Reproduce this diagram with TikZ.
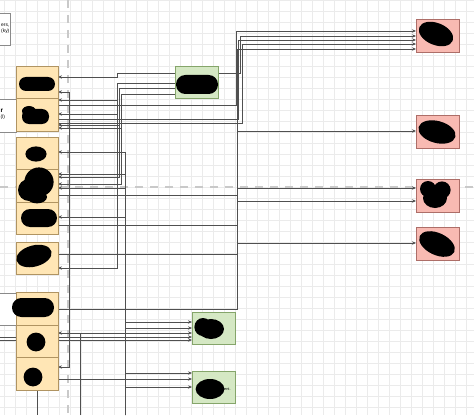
\documentclass[tikz,border=0pt]{standalone}
\usepackage{fontspec}
\setmainfont{Liberation Sans}
\usepackage{xcolor}
\definecolor{wirec}{HTML}{505050}
\definecolor{gridc}{HTML}{EBEBEB}
\definecolor{dashc}{HTML}{C9C9C9}
\definecolor{lightyel}{HTML}{FFE6B5}
\definecolor{yelline}{HTML}{B09462}
\definecolor{lightgrn}{HTML}{D5E8C4}
\definecolor{grnline}{HTML}{85A56A}
\definecolor{lightpink}{HTML}{F8BAB2}
\definecolor{pinkline}{HTML}{AD6E68}
\definecolor{wboxline}{HTML}{8A8A8A}
\usetikzlibrary{arrows.meta, positioning, backgrounds}
\tikzset{
  ybox/.style ={rectangle, draw=yelline, line width=0.45mm, fill=lightyel, outer sep=0pt, inner sep=0pt,
                minimum width=21mm, minimum height=16.25mm},
  gbox/.style ={rectangle, draw=grnline, line width=0.45mm, fill=lightgrn, outer sep=0pt, inner sep=0pt,
                minimum width=21.5mm, minimum height=16mm},
  rbox/.style ={rectangle, draw=pinkline, line width=0.45mm, fill=lightpink, outer sep=0pt, inner sep=0pt,
                minimum width=21.5mm, minimum height=16.5mm},
  wbox/.style ={rectangle, draw=wboxline, line width=0.4mm, fill=white, outer sep=0pt, inner sep=0pt},
  wire/.style ={line width=0.45mm, draw=wirec},
  warr/.style ={wire, -{Stealth[length=2mm, width=1.7mm]}},
  warrb/.style={wire, {Stealth[length=2mm, width=1.7mm]}-{Stealth[length=2mm, width=1.7mm]}},
  gridline/.style={draw=gridc, line width=0.2mm},
  dashline/.style={draw=dashc, line width=0.7mm, dash pattern=on 4mm off 3.5mm},
  blob/.style ={fill=black},
  frag/.style ={font=\fontsize{7}{8.5}\selectfont, text=black, inner sep=0pt},
}

\begin{document}
\begin{tikzpicture}[x=0.5mm, y=-0.5mm]
  \useasboundingbox (0,0) rectangle (474,415);
  % side boxes, cut off at the left edge
  \node[wbox, minimum width=6mm, minimum height=16mm, anchor=north east] (wtop) at (10,13) {};
  \node[wbox, minimum width=9mm, minimum height=16.5mm, anchor=north east] (wmid) at (16,99) {};
  \node[wbox, minimum width=9mm, minimum height=16mm, anchor=north east] (wlow) at (16,293) {};
  \node[frag, anchor=east, align=right] (wtoptxt) at (9.5,29) {ers,\\(ky)};
  \node[frag, anchor=west, align=left] (wmidtxt) at (0.5,114) {{\fontsize{9}{9}\selectfont\bfseries r}\\(l)};
  % yellow stacks
  \node[ybox] (ya) at (37,82.25) {};
  \node[ybox, below=0pt of ya] (yb) {};
  \node[ybox] (yc) at (37,153.5) {};
  \node[ybox, below=0pt of yc] (yd) {};
  \node[ybox, below=0pt of yd] (ye) {};
  \node[ybox] (yf) at (37,258.5) {};
  \node[ybox] (yg) at (37,309) {};
  \node[ybox, below=0pt of yg] (yh) {};
  \node[ybox, below=0pt of yh] (yi) {};
  % green and red boxes
  \node[gbox] (g1) at (197,82) {};
  \node[gbox] (g2) at (213.5,328) {};
  \node[gbox] (g3) at (213.5,387) {};
  \foreach \n/\cy in {1/35.5, 2/131.5, 3/195.5, 4/243.5} \node[rbox] (r\n) at (437.5,\cy) {};
  % free ends at the border
  \coordinate (tb) at (125,415);
  \coordinate (tc) at (80,415);
  \coordinate (ti) at (37,415);
  \coordinate (tl1) at (0,337);
  \coordinate (tl2) at (0,340);

  \begin{scope}[on background layer]
    \fill[white] (0,0) rectangle (474,415);
    \foreach \gx in {4,15,...,470} \draw[gridline] (\gx,0) -- (\gx,415);
    \foreach \gy in {0,11,...,415} \draw[gridline] (0,\gy) -- (474,\gy);
    \draw[dashline] (68,0) -- (68,415);
    \draw[dashline] (0,187) -- (474,187);
    % green box 1 to the left column
    \draw[warr] (g1.west |- 0,73) -- (117,73) -- (117,77) -- (ya.east |- 0,77);
    \foreach \sy/\vx/\ty/\tn in {83/117/100/yb, 83/117/114/yb, 88/119/125/yb, 94/121/128/yb,
                                 88/119/177/yd, 94/121/184/yd, 83/117/268/yf}
      \draw[warr] (g1.west |- 0,\sy) -- (\vx,\sy) -- (\vx,\ty) -- (\tn.east |- 0,\ty);
    % trunk from below
    \foreach \ty/\tn in {152/yc, 174/yd, 188/yd, 217/ye}
      \draw[warr] (tb) |- (\tn.east |- 0,\ty);
    \foreach \ty/\tn in {322/g2, 328/g2, 373/g3, 387/g3}
      \draw[warr] (tb) |- (\tn.west |- 0,\ty);
    \draw[warr] (tc) |- (yh.east |- 0,333);
    \draw[warr] (tc) |- (g2.west |- 0,333);
    \draw[warr] (tl1) -- (g2.west |- 0,337);
    \draw[warr] (tl2) -- (g2.west |- 0,340);
    \draw[warrb] (ya.east |- 0,92) -- (69,92) -- (69,367) -- (yi.east |- 0,367);
    \draw[warr] (yi.east |- 0,379) -- (g3.west |- 0,379);
    \draw[wire] (yi.south) -- (ti);
    % right trunk to the red boxes
    \draw[warr] (yb.east |- 0,105) -- (236,105) -- (236,31) -- (r1.west |- 0,31);
    \draw[warr] (g1.east |- 0,73) -- (240,73) -- (240,36) -- (r1.west |- 0,36);
    \draw[warr] (yb.east |- 0,119) -- (238,119) -- (238,40) -- (r1.west |- 0,40);
    \draw[warr] (yb.east |- 0,123) -- (242,123) -- (242,44) -- (r1.west |- 0,44);
    \draw[warr] (yg.east |- 0,309) -- (237,309) -- (237,49) -- (r1.west |- 0,49);
    \draw[warr] (yg.east |- 0,309) -- (237,309) -- (237,131) -- (r2.west |- 0,131);
    \draw[warr] (yd.east |- 0,195) -- (237,195) -- (237,188) -- (r3.west |- 0,188);
    \draw[warr] (ye.east |- 0,225) -- (237,225) -- (237,201) -- (r3.west |- 0,201);
    \draw[warr] (yf.east |- 0,254) -- (237,254) -- (237,243) -- (r4.west |- 0,243);
  \end{scope}

  % redacted labels
  \fill[blob, rounded corners=3.5mm] (19,77) rectangle (55,91);
  \fill[blob, rounded corners=3.5mm] (22,109) rectangle (49,124);
  \fill[blob] (29,111) ellipse [x radius=3.5mm, y radius=2.5mm];
  \fill[blob] (36,154) ellipse [x radius=5.3mm, y radius=3.8mm];
  \fill[blob] (39,182) ellipse [x radius=7.3mm, y radius=7.3mm];
  \fill[blob] (29,190) ellipse [x radius=5.5mm, y radius=5.5mm];
  \fill[blob] (37,197) ellipse [x radius=5mm, y radius=3.2mm];
  \fill[blob, rounded corners=4.5mm] (21,209) rectangle (57,227);
  \fill[blob, rotate around={15:(34,256)}] (34,256) ellipse [x radius=9mm, y radius=5.3mm];
  \fill[blob, rounded corners=4.7mm] (12,298) rectangle (54,317);
  \fill[blob] (36,342) circle [radius=4.7mm];
  \fill[blob] (33,377) circle [radius=4.7mm];
  \fill[blob, rounded corners=4.7mm] (176,75) rectangle (218,94);
  \fill[blob] (211,329) ellipse [x radius=6.5mm, y radius=5mm];
  \fill[blob] (203,327) ellipse [x radius=4.3mm, y radius=4.5mm];
  \fill[blob] (210,389) ellipse [x radius=7.2mm, y radius=5mm];
  \fill[blob, rotate around={-22:(436,34)}] (436,34) ellipse [x radius=9mm, y radius=5.5mm];
  \fill[blob, rotate around={-15:(437,132)}] (437,132) ellipse [x radius=9.5mm, y radius=5.5mm];
  \fill[blob] (428,189) circle [radius=4mm];
  \fill[blob] (442,190) circle [radius=4.3mm];
  \fill[blob] (435,198) ellipse [x radius=6mm, y radius=5mm];
  \fill[blob, rotate around={-25:(437,244)}] (437,244) ellipse [x radius=9.5mm, y radius=5.5mm];
  \node[frag, anchor=west, font=\fontsize{5.5}{6}\selectfont] (g3txt) at (224,389) {ent.};
\end{tikzpicture}
\end{document}
